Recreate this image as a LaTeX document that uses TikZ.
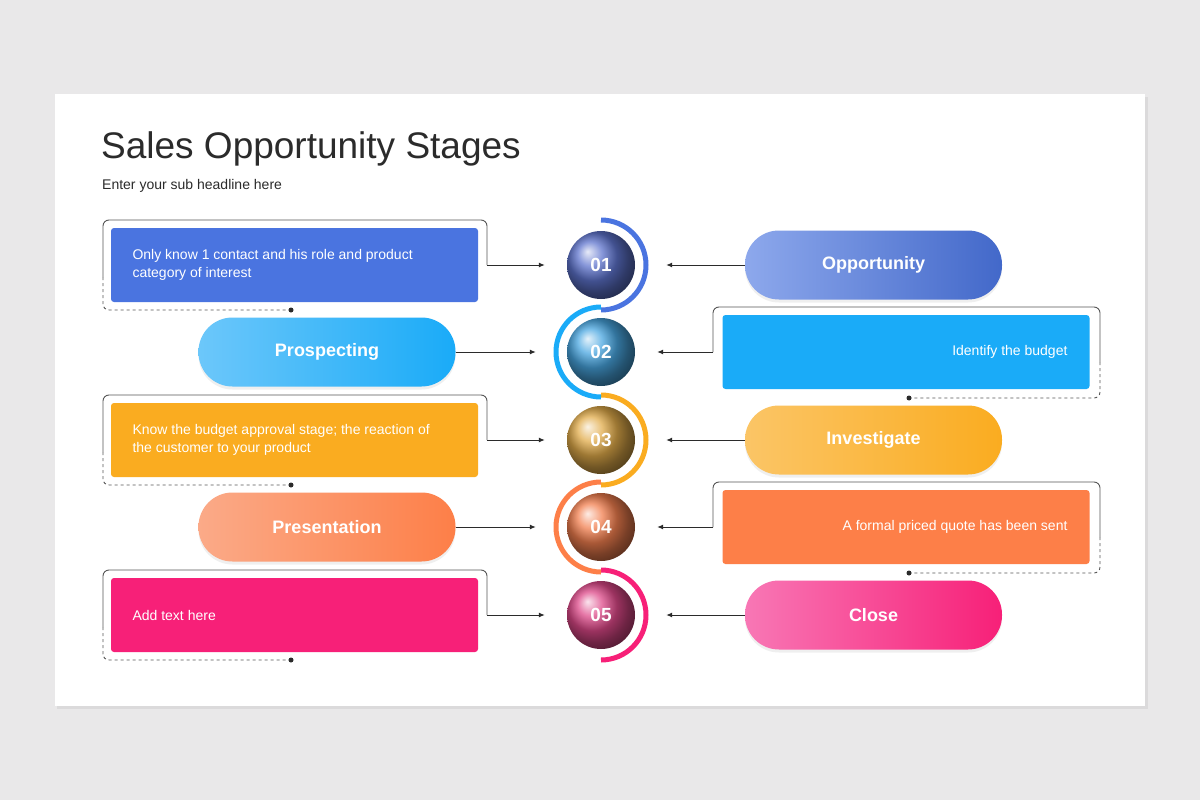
\documentclass[tikz,border=0pt]{standalone}
\usepackage{fontspec}
\setmainfont{Liberation Sans}
\usetikzlibrary{arrows.meta,shadows}
\definecolor{bg}{HTML}{E9E8E9}
\definecolor{ink}{HTML}{2B2B2B}
\definecolor{cA}{HTML}{4A74E0}\definecolor{cAl}{HTML}{8DA8EC}\definecolor{cAd}{HTML}{3550C0}
\definecolor{cB}{HTML}{1AABF8}\definecolor{cBl}{HTML}{6CC7FA}\definecolor{cBd}{HTML}{1A8FD8}
\definecolor{cC}{HTML}{FAAC20}\definecolor{cCl}{HTML}{FBC566}\definecolor{cCd}{HTML}{D9961C}
\definecolor{cD}{HTML}{FD7F48}\definecolor{cDl}{HTML}{FBAA88}\definecolor{cDd}{HTML}{EE5E22}
\definecolor{cE}{HTML}{F72078}\definecolor{cEl}{HTML}{F877B5}\definecolor{cEd}{HTML}{D41A6A}
\tikzset{
  box/.style={rectangle,rounded corners=3pt,minimum width=367pt,minimum height=74pt,inner sep=0pt},
  pill/.style={rectangle,rounded corners=34pt,minimum width=257pt,minimum height=69pt,inner sep=0pt,
     text=white,font=\bfseries\fontsize{18}{20}\selectfont,drop shadow={opacity=0.12,shadow xshift=0pt,shadow yshift=-3pt}},
  ball/.style={circle,minimum size=68pt,inner sep=0pt,text=white,font=\bfseries\fontsize{19}{20}\selectfont},
  ring/.style={line width=5pt},
  frame/.style={draw=ink!80,line width=0.9pt,rounded corners=6pt},
  dframe/.style={draw=ink!80,line width=0.9pt,dash pattern=on 3pt off 3pt},
  arr/.style={draw=ink,line width=1pt,-{Latex[length=6pt,width=5pt]}},
  btext/.style={text=white,font=\fontsize{14}{18}\selectfont,align=left},
}
\begin{document}
\begin{tikzpicture}[x=1pt,y=-1pt]
\useasboundingbox (0,0) rectangle (1200,800);
\fill[bg] (0,0) rectangle (1200,800);
\fill[black,opacity=0.06] (57,97) rectangle (1148,709);
\fill[white] (55,94) rectangle (1145,706);
\node[anchor=base west,text=ink,font=\fontsize{37}{40}\selectfont,inner sep=0pt] (title) at (101,158) {Sales Opportunity Stages};
\node[anchor=base west,text=ink,font=\fontsize{14}{16}\selectfont,inner sep=0pt] (sub) at (102,189) {Enter your sub headline here};
% circles and rings
\foreach \i/\y/\r/\d in {1/265/cA/cAd,3/440/cC/cCd,5/615/cE/cEd}{
  \draw[ring,\r] (601,\y-45) arc (-90:90:45);
  \node[ball,ball color=\d!80!white,shading angle=0] (c\i) at (601,\y) {0\i};
}
\foreach \i/\y/\r/\d in {2/352/cB/cBd,4/527/cD/cDd}{
  \draw[ring,\r] (601,\y-45) arc (270:90:45);
  \node[ball,ball color=\d!80!white] (c\i) at (601,\y) {0\i};
}
% left boxes (1,3,5)
\foreach \i/\y/\col/\txt in {1/265/cA/{Only know 1 contact and his role and product\\category of interest},
    3/440/cC/{Know the budget approval stage; the reaction of\\the customer to your product},
    5/615/cE/{Add text here}}{
  \node[box,fill=\col] (b\i) at (294.5,\y) {};
  \node[btext,anchor=west] (t\i) at (129,\y) {\txt};
  \coordinate (fa\i) at (487,\y);
  \coordinate (fd\i) at (291,\y+45);
  \draw[frame] (103,\y+12) -- (103,\y-45) -- (487,\y-45) -- (fa\i);
  \draw[dframe,rounded corners=6pt] (103,\y+12) -- (103,\y+45) -- (fd\i);
  \fill[ink] (fd\i) circle (2.5pt);
  \draw[arr,shorten >=22pt] (fa\i) -- (c\i.west);
}
% right boxes (2,4)
\foreach \i/\y/\col/\txt in {2/352/cB/{Identify the budget},4/527/cD/{A formal priced quote has been sent}}{
  \node[box,fill=\col] (b\i) at (906,\y) {};
  \node[btext,anchor=east] (t\i) at (1071,\y) {\txt};
  \coordinate (fa\i) at (713,\y);
  \coordinate (fd\i) at (909,\y+46);
  \draw[frame] (1100,\y+10) -- (1100,\y-45) -- (713,\y-45) -- (fa\i);
  \draw[dframe,rounded corners=6pt] (1100,\y+10) -- (1100,\y+46) -- (fd\i);
  \fill[ink] (fd\i) circle (2.5pt);
  \draw[arr,shorten >=22pt] (fa\i) -- (c\i.east);
}
% left pills (2,4)
\node[pill,left color=cBl,right color=cB] (p2) at (327,352) {Prospecting};
\node[pill,left color=cDl,right color=cD] (p4) at (327,527) {Presentation};
\foreach \i in {2,4}{\draw[arr,shorten >=31pt] (p\i.east) -- (c\i.west);}
% right pills (1,3,5)
\node[pill,left color=cAl,right color=cA!90!black] (p1) at (873.5,265) {Opportunity};
\node[pill,left color=cCl,right color=cC] (p3) at (873.5,440) {Investigate};
\node[pill,left color=cEl,right color=cE] (p5) at (873.5,615) {Close};
\foreach \i in {1,3,5}{\draw[arr,shorten >=31pt] (p\i.west) -- (c\i.east);}
\end{tikzpicture}
\end{document}
